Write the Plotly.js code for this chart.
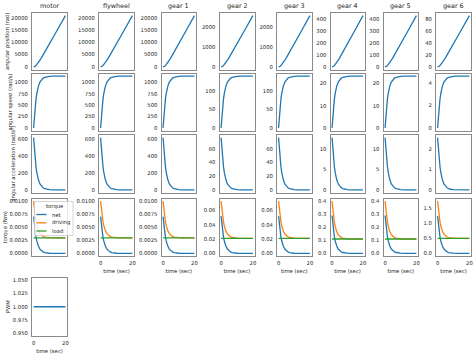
<!DOCTYPE html>
<html><head><meta charset="utf-8">
<script src="https://cdn.plot.ly/plotly-3.0.1.min.js"></script>
<style>html,body{margin:0;padding:0;background:#fff}#chart{width:474px;height:355px}</style>
</head><body><div id="chart"></div>
<script>
// ---------------- data ----------------
const time = [0,0.5,1,1.5,2,2.5,3,4,5,6,7,8,10,12,15,20];
const columnTitles = ['motor','flywheel','gear 1','gear 2','gear 3','gear 4','gear 5','gear 6'];
const rowTitles = ['angular position (rad)','angular speed (rad/s)','angular acceleration (rad/s²)','torque (Nm)'];
const torqueNames = ['net','driving','load'];
const legendTitle = 'torque';
const timeTitle = 'time (sec)';
const pwmTitle = 'PWM';

// motor, flywheel and gear 1 show identical curves
const posMotor   = [0,71,261,544,894,1298,1744,2717,3765,4855,5971,7100,9382,11676,15123,20873];
const speedMotor = [0,270,477,633,754,845,914,1009,1064,1096,1114,1125,1135,1138,1140,1140];
const accelMotor = [615,469,358,274,208,159,122,71,41,24,14,8,2.8,0.9,0.2,0];
const netMotor     = [0.0071,0.00542,0.00413,0.00316,0.00241,0.00184,0.00141,0.00082,0.00048,0.00028,0.00016,0.00009,0.00003,0.00001,0,0];
const drivingMotor = [0.0101,0.00842,0.00713,0.00616,0.00541,0.00484,0.00441,0.00382,0.00348,0.00328,0.00316,0.00309,0.00303,0.00301,0.003,0.003];
const loadMotor    = [0.003,0.003,0.003,0.003,0.003,0.003,0.003,0.003,0.003,0.003,0.003,0.003,0.003,0.003,0.003,0.003];

// gear 2 and gear 3
const posGear2   = [0,8.9,32.6,68.1,111.9,162.6,218.3,340.2,471.4,608,747.7,889.1,1174.8,1462,1893.7,2613.6];
const speedGear2 = [0,33.4,58.9,78.3,93.2,104.5,113.1,124.8,131.6,135.5,137.8,139.2,140.4,140.8,141,141];
const accelGear2 = [76.5,58.4,44.5,34.0,25.9,19.8,15.1,8.8,5.1,3.0,1.8,1.0,0.34,0.11,0.02,0];
const netGear2     = [0.052,0.0397,0.0303,0.0231,0.0176,0.0135,0.0103,0.006,0.0035,0.002,0.0012,0.0007,0.0002,0.0001,0,0];
const drivingGear2 = [0.073,0.0607,0.0513,0.0441,0.0386,0.0345,0.0313,0.027,0.0245,0.023,0.0222,0.0217,0.0212,0.0211,0.021,0.021];
const loadGear2    = [0.021,0.021,0.021,0.021,0.021,0.021,0.021,0.021,0.021,0.021,0.021,0.021,0.021,0.021,0.021,0.021];

// gear 4 and gear 5
const posGear4   = [0,1.45,5.35,11.17,18.34,26.65,35.78,55.76,77.26,99.64,122.54,145.71,192.54,239.61,310.35,428.34];
const speedGear4 = [0,5.52,9.74,12.93,15.40,17.27,18.69,20.62,21.74,22.39,22.76,23.0,23.2,23.27,23.29,23.3];
const accelGear4 = [12.7,9.69,7.39,5.65,4.31,3.29,2.51,1.46,0.85,0.50,0.29,0.17,0.06,0.02,0.004,0];
const netGear4     = [0.29,0.221,0.169,0.129,0.098,0.075,0.057,0.033,0.019,0.011,0.0067,0.0038,0.0013,0.0004,0.0001,0];
const drivingGear4 = [0.40,0.331,0.279,0.239,0.208,0.185,0.167,0.143,0.129,0.121,0.1167,0.1138,0.1113,0.1104,0.1101,0.11];
const loadGear4    = [0.11,0.11,0.11,0.11,0.11,0.11,0.11,0.11,0.11,0.11,0.11,0.11,0.11,0.11,0.11,0.11];

// gear 6
const posGear6   = [0,0.29,1.07,2.23,3.67,5.33,7.16,11.15,15.45,19.93,24.51,29.14,38.51,47.92,62.07,85.67];
const speedGear6 = [0,1.10,1.94,2.58,3.07,3.45,3.73,4.12,4.34,4.47,4.54,4.59,4.63,4.64,4.65,4.65];
const accelGear6 = [2.55,1.95,1.48,1.13,0.86,0.66,0.50,0.29,0.17,0.10,0.06,0.03,0.011,0.004,0.001,0];
const netGear6     = [1.25,0.954,0.728,0.556,0.424,0.324,0.248,0.144,0.084,0.049,0.029,0.016,0.006,0.002,0.0004,0];
const drivingGear6 = [1.75,1.454,1.228,1.056,0.924,0.824,0.748,0.644,0.584,0.549,0.529,0.516,0.506,0.502,0.5004,0.5];
const loadGear6    = [0.5,0.5,0.5,0.5,0.5,0.5,0.5,0.5,0.5,0.5,0.5,0.5,0.5,0.5,0.5,0.5];

const pwm = [1,1,1,1,1,1,1,1,1,1,1,1,1,1,1,1];

// tick values
const xTicks = [0,20];
const posTicksMotor = [0,5000,10000,15000,20000];
const posTicksGear2 = [0,1000,2000];
const posTicksGear4 = [0,100,200,300,400];
const posTicksGear6 = [0,20,40,60,80];
const speedTicksMotor = [0,250,500,750,1000];
const speedTicksGear2 = [0,50,100];
const speedTicksGear4 = [0,10,20];
const speedTicksGear6 = [0,2,4];
const accelTicksMotor = [0,200,400,600];
const accelTicksGear2 = [0,20,40,60];
const accelTicksGear4 = [0,5,10];
const accelTicksGear6 = [0,1,2];
const torqueTicksMotor = [0,0.0025,0.005,0.0075,0.01];
const torqueTicksGear2 = [0,0.02,0.04,0.06];
const torqueTicksGear4 = [0,0.1,0.2,0.3,0.4];
const torqueTicksGear6 = [0,0.5,1.0,1.5];
const pwmTicks = [0.95,0.975,1.0,1.025,1.05];

// column -> data mapping
const posByCol   = [posMotor,posMotor,posMotor,posGear2,posGear2,posGear4,posGear4,posGear6];
const speedByCol = [speedMotor,speedMotor,speedMotor,speedGear2,speedGear2,speedGear4,speedGear4,speedGear6];
const accelByCol = [accelMotor,accelMotor,accelMotor,accelGear2,accelGear2,accelGear4,accelGear4,accelGear6];
const netByCol     = [netMotor,netMotor,netMotor,netGear2,netGear2,netGear4,netGear4,netGear6];
const drivingByCol = [drivingMotor,drivingMotor,drivingMotor,drivingGear2,drivingGear2,drivingGear4,drivingGear4,drivingGear6];
const loadByCol    = [loadMotor,loadMotor,loadMotor,loadGear2,loadGear2,loadGear4,loadGear4,loadGear6];
const posTicksByCol   = [posTicksMotor,posTicksMotor,posTicksMotor,posTicksGear2,posTicksGear2,posTicksGear4,posTicksGear4,posTicksGear6];
const speedTicksByCol = [speedTicksMotor,speedTicksMotor,speedTicksMotor,speedTicksGear2,speedTicksGear2,speedTicksGear4,speedTicksGear4,speedTicksGear6];
const accelTicksByCol = [accelTicksMotor,accelTicksMotor,accelTicksMotor,accelTicksGear2,accelTicksGear2,accelTicksGear4,accelTicksGear4,accelTicksGear6];
const torqueTicksByCol= [torqueTicksMotor,torqueTicksMotor,torqueTicksMotor,torqueTicksGear2,torqueTicksGear2,torqueTicksGear4,torqueTicksGear4,torqueTicksGear6];
const torqueFmtByCol  = ['.4f','.4f','.4f','.2f','.2f','.1f','.1f','.1f'];

// ---------------- layout geometry (pixels) ----------------
const W = 474, H = 355;
const colX = [[32,67],[99,134],[161.5,196],[219.5,254.5],[277,311.5],[330.5,364.5],[383.5,418],[436,471]];
const rowY = [[13,69.5],[73.5,130.5],[135,192.5],[198.5,256]];
const pwmY = [277.5,336];
const colors = ['#1f77b4','#ff7f0e','#2ca02c'];
const TXT = '#262626';
const FAM = 'DejaVu Sans, sans-serif';
const TICKF = 5.3, LABF = 5.3, TITF = 6.4;

function padRange(arrs){
  let mn=Infinity,mx=-Infinity;
  arrs.forEach(a=>a.forEach(v=>{ if(v<mn)mn=v; if(v>mx)mx=v; }));
  const s = mx-mn; return [mn-0.05*s, mx+0.05*s];
}
const xd = c => [colX[c][0]/W, colX[c][1]/W];
const yd = r => [1-r[1]/H, 1-r[0]/H];

const traces = [];
const layout = {
  width: W, height: H, margin:{l:0,r:0,t:0,b:0},
  paper_bgcolor:'#fff', plot_bgcolor:'#fff',
  font:{family:FAM, color:TXT, size:TICKF},
  showlegend:false, hovermode:false,
  annotations:[], shapes:[]
};

function axisBase(){
  return {showline:true, mirror:true, linecolor:'#8a8a8a', linewidth:1,
          showgrid:false, zeroline:false, ticks:'', ticklen:0,
          tickfont:{size:TICKF, color:TXT, family:FAM}};
}

let k = 0;
function addSubplot(r, c, seriesList, yticks, yfmt, yRowPx, bottom, yTitle, fixedRange){
  k++;
  const xs = k===1 ? 'x' : 'x'+k, ys = k===1 ? 'y' : 'y'+k;
  seriesList.forEach((s,i)=>{
    traces.push({type:'scatter', mode:'lines', x:time, y:s.y, xaxis:xs, yaxis:ys,
      line:{color:s.color, width:1.3}, name:s.name, showlegend:false});
  });
  const xa = Object.assign(axisBase(), {domain:xd(c), range:[-1,21], anchor:ys,
      tickvals:xTicks, tickformat:'d', showticklabels:bottom, ticklabelstandoff:2});
  if(bottom) xa.title = {text:timeTitle, font:{size:LABF, color:TXT, family:FAM}, standoff:3};
  const ya = Object.assign(axisBase(), {domain:yd(yRowPx), anchor:xs,
      range: fixedRange || padRange(seriesList.map(s=>s.y)),
      tickvals:yticks, tickformat:yfmt, ticklabelstandoff:2});
  if(yTitle) ya.title = {text:yTitle, font:{size:LABF, color:TXT, family:FAM}, standoff:1};
  layout['xaxis'+(k===1?'':k)] = xa;
  layout['yaxis'+(k===1?'':k)] = ya;
}

for(let c=0;c<8;c++){
  addSubplot(0,c,[{y:posByCol[c],color:colors[0],name:'position'}], posTicksByCol[c],'d',rowY[0],false, c===0?rowTitles[0]:null);
}
for(let c=0;c<8;c++){
  addSubplot(1,c,[{y:speedByCol[c],color:colors[0],name:'speed'}], speedTicksByCol[c],'d',rowY[1],false, c===0?rowTitles[1]:null);
}
for(let c=0;c<8;c++){
  addSubplot(2,c,[{y:accelByCol[c],color:colors[0],name:'acceleration'}], accelTicksByCol[c],'d',rowY[2],false, c===0?rowTitles[2]:null);
}
for(let c=0;c<8;c++){
  addSubplot(3,c,[
    {y:netByCol[c],color:colors[0],name:torqueNames[0]},
    {y:drivingByCol[c],color:colors[1],name:torqueNames[1]},
    {y:loadByCol[c],color:colors[2],name:torqueNames[2]}],
    torqueTicksByCol[c], torqueFmtByCol[c], rowY[3], c!==0, c===0?rowTitles[3]:null);
}
addSubplot(4,0,[{y:pwm,color:colors[0],name:'PWM'}], pwmTicks,'.3f',pwmY,true,pwmTitle,[0.945,1.055]);

// column titles
columnTitles.forEach((t,c)=>{
  layout.annotations.push({text:t, xref:'paper', yref:'paper',
    x:(colX[c][0]+colX[c][1])/2/W, y:1-6.5/H, xanchor:'center', yanchor:'middle',
    showarrow:false, font:{size:TITF, color:TXT, family:FAM}});
});

// legend drawn inside the motor torque panel
const lg = {x0:34.5, x1:73, y0:201.5, y1:235.5};
layout.shapes.push({type:'rect', xref:'paper', yref:'paper', layer:'above',
  x0:lg.x0/W, x1:lg.x1/W, y0:1-lg.y1/H, y1:1-lg.y0/H,
  fillcolor:'rgba(255,255,255,0.8)', line:{color:'#cccccc', width:0.8}});
layout.annotations.push({text:legendTitle, xref:'paper', yref:'paper',
  x:54/W, y:1-206.5/H, xanchor:'center', yanchor:'middle', showarrow:false,
  font:{size:LABF, color:TXT, family:FAM}});
const entryY = [214.5, 222.8, 231];
torqueNames.forEach((n,i)=>{
  layout.shapes.push({type:'line', xref:'paper', yref:'paper', layer:'above',
    x0:36.5/W, x1:46.5/W, y0:1-entryY[i]/H, y1:1-entryY[i]/H,
    line:{color:colors[i], width:1.3}});
  layout.annotations.push({text:n, xref:'paper', yref:'paper',
    x:49.5/W, y:1-entryY[i]/H, xanchor:'left', yanchor:'middle', showarrow:false,
    font:{size:LABF, color:TXT, family:FAM}});
});

Plotly.newPlot('chart', traces, layout, {displayModeBar:false, staticPlot:true});
</script></body></html>
